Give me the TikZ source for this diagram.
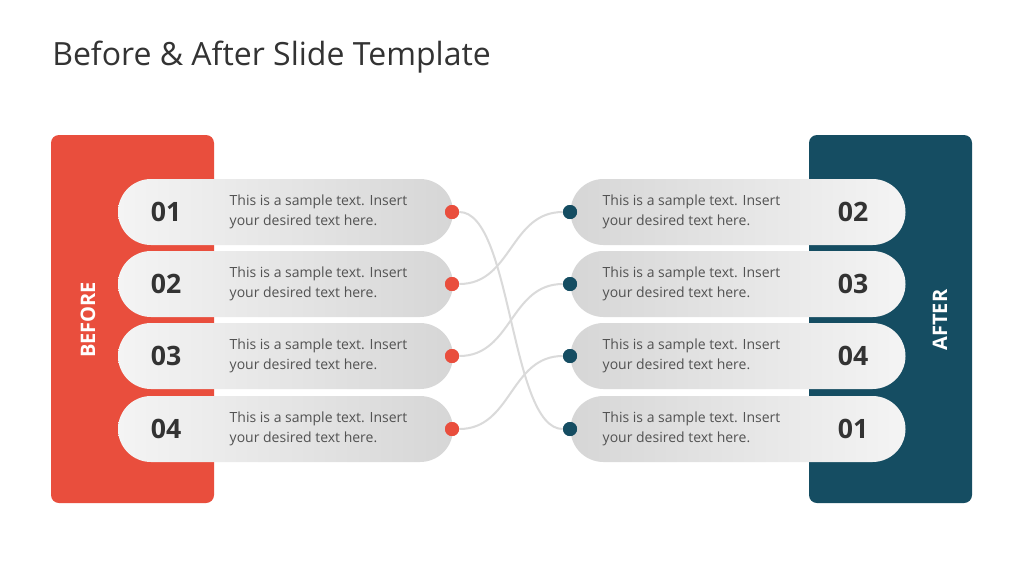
\documentclass[tikz,border=0pt]{standalone}
\usepackage{fontspec}
\setmainfont{Open Sans}
\usetikzlibrary{positioning}
\definecolor{beforered}{HTML}{E94E3D}
\definecolor{afterteal}{HTML}{154D62}
\definecolor{titlegray}{HTML}{333333}
\definecolor{pilllight}{HTML}{F4F4F4}
\definecolor{pilldark}{HTML}{D6D6D6}
\definecolor{linkgray}{HTML}{DADADA}
\begin{document}
\begin{tikzpicture}[x=0.75pt, y=-0.75pt,
  bar/.style={rounded corners=6pt, draw=none},
  pillL/.style={rounded corners=24.75pt, minimum width=251.25pt, minimum height=49.5pt, left color=pilllight, right color=pilldark, draw=none},
  pillR/.style={rounded corners=24.75pt, minimum width=251.25pt, minimum height=49.5pt, left color=pilldark, right color=pilllight, draw=none},
  num/.style={font=\fontsize{20}{22}\selectfont\bfseries, text=titlegray},
  txt/.style={font=\fontsize{10.5}{15}\selectfont, text=titlegray!85, align=left, anchor=west},
  dotL/.style={circle, fill=beforered, inner sep=0pt, minimum size=10.5pt},
  dotR/.style={circle, fill=afterteal, inner sep=0pt, minimum size=10.5pt},
  link/.style={linkgray, line width=1.5pt}]
\fill[white] (0,0) rectangle (1024,576);
\node[anchor=base west, font=\fontsize{24}{28}\selectfont, text=titlegray, inner sep=0pt] (title) at (52,65) {Before \& After Slide Template};
% side bars
\fill[beforered, bar] (51,135) rectangle (214,503);
\fill[afterteal, bar] (809,135) rectangle (972,503);
\node[rotate=90, font=\fontsize{15}{18}\selectfont\bfseries, text=white] (before) at (88,320) {BEFORE};
\node[rotate=90, font=\fontsize{15}{18}\selectfont\bfseries, text=white] (after) at (940,320) {AFTER};
% pills
\foreach \i/\y/\l/\r in {1/212/01/02, 2/284/02/03, 3/356/03/04, 4/429/04/01} {
  \node[pillL] (pl\i) at (285.5,\y) {};
  \node[pillR] (pr\i) at (738,\y) {};
  \node[num] (nl\i) at (166,\y) {\l};
  \node[num] (nr\i) at (853,\y) {\r};
  \node[txt] (tl\i) at (225,\y) {This is a sample text. Insert\\your desired text here.};
  \node[txt] (tr\i) at (598,\y) {This is a sample text. Insert\\your desired text here.};
  \node[dotL] (dl\i) at (452,\y) {};
  \node[dotR] (dr\i) at (570,\y) {};
}
% links
\draw[link] (dl1) .. controls +(60,0) and +(-60,0) .. (dr4);
\draw[link] (dl2) .. controls +(60,0) and +(-60,0) .. (dr1);
\draw[link] (dl3) .. controls +(60,0) and +(-60,0) .. (dr2);
\draw[link] (dl4) .. controls +(60,0) and +(-60,0) .. (dr3);
\foreach \i in {1,...,4} {
  \node[dotL] at (dl\i) {};
  \node[dotR] at (dr\i) {};
}
\end{tikzpicture}
\end{document}
